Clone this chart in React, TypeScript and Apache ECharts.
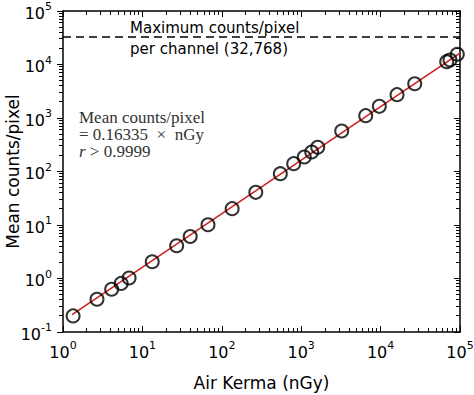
import React, { useEffect, useRef } from "react";
import * as echarts from "echarts";

// Measured points (air kerma in nGy, mean counts per pixel)
const airKerma = [1.34, 2.68, 4.1, 5.4, 6.8, 13.3, 27, 40, 67, 135, 268, 546, 804, 1094, 1356, 1614, 3236, 6490, 9640, 16100, 26900, 68000, 74800, 92500];
const meanCounts = [0.2, 0.41, 0.63, 0.81, 1.02, 2.06, 4.1, 6.1, 10.1, 20.2, 40.8, 91, 140, 187, 231, 283, 571, 1105, 1652, 2729, 4375, 11280, 12140, 15520];

// Fit line end points (Mean counts/pixel = 0.16335 × nGy)
const fitX = [1.3, 100000];
const fitY = [0.212, 16335];

// Saturation level
const maxLineX = [1, 100000];
const maxCounts = 32768;

// Axis ranges
const xRange = [1, 100000];
const yRange = [0.1, 100000];

const SANS = "DejaVu Sans";
const SERIF = "Liberation Serif";

function minorValues(lo: number, hi: number): number[] {
  const out: number[] = [];
  for (let d = lo; d < hi * 0.999; d *= 10) {
    for (let k = 2; k <= 9; k++) out.push(d * k);
  }
  return out;
}

const App: React.FC = () => {
  const ref = useRef<HTMLDivElement>(null);

  useEffect(() => {
    if (!ref.current) return;
    const chart = echarts.init(ref.current, undefined, { renderer: "svg" });

    const labelFmt = (v: number) => `{b|10}{s|${Math.round(Math.log10(v))}}`;
    const labelRich = {
      b: { fontSize: 16, fontFamily: SANS, color: "#000", lineHeight: 20, verticalAlign: "bottom" },
      s: { fontSize: 11, fontFamily: SANS, color: "#000", lineHeight: 11, verticalAlign: "top" },
    };

    const xm = minorValues(xRange[0], xRange[1]);
    const ym = minorValues(yRange[0], yRange[1]);
    const M = 4;

    const axisLine = { show: true, lineStyle: { color: "#000", width: 1.5 } };
    const tickLine = { color: "#000", width: 1 };

    const xBase = {
      type: "log",
      logBase: 10,
      min: xRange[0],
      max: xRange[1],
      splitNumber: 5,
      splitLine: { show: false },
    };
    const yBase = {
      type: "log",
      logBase: 10,
      min: yRange[0],
      max: yRange[1],
      splitNumber: 6,
      splitLine: { show: false },
    };

    // minor tick marks drawn with custom series (one crisp rect per tick)
    const tickSeries = (data: number[][], side: string) => ({
      type: "custom",
      clip: false,
      data,
      renderItem: (params: any, api: any) => {
        const p = api.coord([api.value(0), api.value(1)]);
        const px = Math.round(p[0] - 0.5);
        const py = Math.round(p[1] - 0.5);
        let shape;
        if (side === "bottom") shape = { x: px, y: Math.round(p[1]) - M, width: 1, height: M };
        else if (side === "top") shape = { x: px, y: Math.round(p[1]), width: 1, height: M };
        else if (side === "left") shape = { x: Math.round(p[0]) - M, y: py, width: M, height: 1 };
        else shape = { x: Math.round(p[0]) - M, y: py, width: M, height: 1 };
        return { type: "rect", shape, style: { fill: "#000" } };
      },
    });

    chart.setOption({
      animation: false,
      grid: { left: 63, right: 14, top: 11, bottom: 63, outerBoundsMode: "none", containLabel: false },
      xAxis: [
        {
          ...xBase,
          name: "Air Kerma (nGy)",
          nameLocation: "middle",
          nameGap: 42,
          nameMoveOverlap: false,
          nameTextStyle: { fontSize: 17, fontFamily: SANS, color: "#000" },
          axisLine,
          axisTick: { show: true, inside: true, length: 6, lineStyle: tickLine },
          axisLabel: { formatter: labelFmt, rich: labelRich, margin: 8 },
        },
        {
          ...xBase,
          position: "top",
          axisLine,
          axisTick: { show: true, inside: true, length: 6, lineStyle: tickLine },
          axisLabel: { show: false },
        },
      ],
      yAxis: [
        {
          ...yBase,
          name: "Mean counts/pixel",
          nameLocation: "middle",
          nameGap: 42,
          nameMoveOverlap: false,
          nameTextStyle: { fontSize: 17, fontFamily: SANS, color: "#000" },
          axisLine,
          axisTick: { show: true, inside: false, length: 6, lineStyle: tickLine },
          axisLabel: { formatter: labelFmt, rich: labelRich, margin: 11 },
        },
        {
          ...yBase,
          position: "right",
          axisLine,
          axisTick: { show: true, inside: true, length: 6, lineStyle: tickLine },
          axisLabel: { show: false },
        },
      ],
      series: [
        tickSeries(xm.map((v) => [v, yRange[0]]), "bottom"),
        tickSeries(xm.map((v) => [v, yRange[1]]), "top"),
        tickSeries(ym.map((v) => [xRange[0], v]), "left"),
        tickSeries(ym.map((v) => [xRange[1], v]), "right"),
        {
          type: "line",
          name: "max",
          data: maxLineX.map((x) => [x, maxCounts]),
          symbol: "none",
          lineStyle: { color: "#000", width: 1.5, type: [8, 5] },
        },
        {
          type: "line",
          name: "fit",
          data: fitX.map((x, i) => [x, fitY[i]]),
          symbol: "none",
          lineStyle: { color: "#d02020", width: 1.6 },
        },
        {
          type: "scatter",
          name: "data",
          data: airKerma.map((x, i) => [x, meanCounts[i]]),
          symbol: "circle",
          symbolSize: 13,
          itemStyle: { color: "rgba(255,255,255,0)", borderColor: "#000", borderWidth: 2 },
          z: 3,
        },
      ],
      graphic: [
        {
          type: "text",
          x: 130,
          y: 28,
          style: { text: "Maximum counts/pixel", fontSize: 15, fontFamily: SANS, fill: "#000", verticalAlign: "middle" },
        },
        {
          type: "text",
          x: 130,
          y: 49,
          style: { text: "per channel (32,768)", fontSize: 15, fontFamily: SANS, fill: "#000", verticalAlign: "middle" },
        },
        {
          type: "text",
          x: 79,
          y: 108.5,
          style: {
            text: "{t|Mean counts/pixel}\n{t|= 0.16335  ×  nGy}\n{i|r}{t| > 0.9999}",
            fontSize: 17,
            fontFamily: SERIF,
            fill: "#333",
            lineHeight: 17,
            verticalAlign: "top",
            rich: {
              t: { fontSize: 17, fontFamily: SERIF, fill: "#333", lineHeight: 17 },
              i: { fontStyle: "italic", fontSize: 17, fontFamily: SERIF, fill: "#333", lineHeight: 17 },
            },
          },
        },
      ],
    });

    return () => chart.dispose();
  }, []);

  return <div ref={ref} style={{ width: 474, height: 395, position: "absolute", left: 0, top: 0 }} />;
};

export default App;
